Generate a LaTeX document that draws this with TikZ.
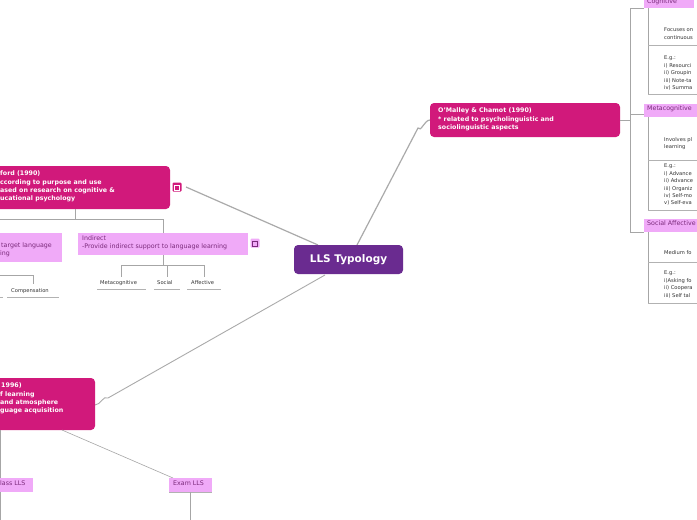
\documentclass[tikz,border=0pt]{standalone}
\usepackage{fontspec}
\setmainfont{DejaVu Sans}
\definecolor{mag}{HTML}{D1197B}
\definecolor{lav}{HTML}{F0AAF8}
\definecolor{lavtxt}{HTML}{7A2A7A}
\definecolor{cen}{HTML}{6A2B90}
\definecolor{ln}{HTML}{AAAAAA}
\begin{document}
\begin{tikzpicture}[x=1pt,y=-1pt,
  magbox/.style={fill=mag,rounded corners=4pt,draw=none},
  lavbox/.style={fill=lav,draw=none},
  wt/.style={text=white,font=\fontsize{6.3}{8.2}\selectfont\bfseries,anchor=north west,inner sep=0pt,align=left},
  lt/.style={text=lavtxt,font=\fontsize{6.3}{8}\selectfont,anchor=north west,inner sep=0pt,align=left},
  st/.style={text=black!80,font=\fontsize{5.2}{7.4}\selectfont,anchor=north west,inner sep=0pt,align=left},
  conn/.style={draw=ln,line width=1.2pt},
  tree/.style={draw=gray!70,line width=0.6pt},
  ul/.style={draw=gray!60,line width=0.6pt}]
\useasboundingbox (0,0) rectangle (697,520);
\clip (0,0) rectangle (697,520);
\fill[white] (0,0) rectangle (697,520);

% main connectors
\coordinate (c1) at (318,245);
\coordinate (c2) at (357,245);
\coordinate (c3) at (325,275);
\coordinate (oxi) at (186,187);
\coordinate (omi) at (430,120);
\coordinate (bti) at (95,405);
\draw[conn] (c1) -- (oxi);
\draw[conn] (c2) -- (418,128) to[out=-60,in=180] (omi);
\draw[draw=ln,line width=0.9pt] (c3) -- (108,398) to[out=150,in=0] (bti);

% center
\node[fill=cen,rounded corners=4pt,text=white,font=\fontsize{10.5}{12}\selectfont\bfseries,minimum width=109pt,minimum height=29pt] (center) at (348.5,259.5) {LLS Typology};

% Oxford
\fill[magbox] (-10,166) rectangle (170,209);
\node[wt] (ox) at (0,171) {ford (1990)\\ccording to purpose and use\\ased on research on cognitive \&\\ucational psychology};
\node[fill=mag,minimum size=9pt,inner sep=0pt,rounded corners=1pt] (oxicon) at (177,187) {};
\draw[white,line width=0.5pt] (174.5,185) rectangle (179.5,190);
\draw[tree] (75,209) -- (75,219);
\draw[tree] (0,219) -- (163,219) -- (163,233);
\fill[lavbox] (-5,233) rectangle (62,262);
\node[lt] (dir) at (0,243) {\,target language\\ing};
\fill[lavbox] (78,233) rectangle (248,255);
\node[lt] (ind) at (82,236) {Indirect\\-Provide indirect support to language learning};
\node[fill=lav,minimum size=9pt,inner sep=0pt,rounded corners=1pt] (indicon) at (255,243) {};
\draw[lavtxt,line width=0.4pt] (252.5,241) rectangle (257.5,246);
\draw[tree] (163,255) -- (163,265);
\draw[tree] (121,265) -- (204,265);
\foreach \x in {121,167,204} \draw[tree] (\x,265) -- (\x,277);
\node[st] (m) at (100,280) {Metacognitive};
\node[st] (s) at (157,280) {Social};
\node[st] (a) at (191,280) {Affective};
\draw[ul] (97,289) -- (146,289);
\draw[ul] (154,289) -- (180,289);
\draw[ul] (187,289) -- (221,289);
\draw[tree] (33,275) -- (0,275);
\draw[tree] (33,275) -- (33,284);
\node[st] (comp) at (11,288) {Compensation};
\draw[ul] (7,297) -- (59,297);
\draw[ul] (0,297) -- (3,297);

% O'Malley
\fill[magbox] (430,103) rectangle (620,137);
\node[wt] (om) at (438,108) {O'Malley \& Chamot (1990)\\* related to psycholinguistic and\\sociolinguistic aspects};
\draw[tree] (620,120) -- (630,120);
\draw[tree] (644,8) -- (630,8) -- (630,232) -- (644,232);
\draw[tree] (630,114) -- (644,114);
\fill[lavbox] (644,-4) rectangle (694,8);
\node[lt] (cog) at (647,-1) {Cognitive};
\fill[lavbox] (644,104) rectangle (700,117);
\node[lt] (meta) at (647,106) {Metacognitive};
\fill[lavbox] (644,219) rectangle (700,232);
\node[lt] (soc) at (647,221) {Social Affective};

\draw[tree] (648,8) -- (648,94);
\node[st] (t1) at (664,28) {Focuses on\\continuous};
\draw[ul] (648,45) -- (697,45);
\node[st] (t2) at (664,56) {E.g.:\\i) Resourci\\ii) Groupin\\iii) Note-ta\\iv) Summa};
\draw[ul] (648,94) -- (697,94);

\draw[tree] (648,117) -- (648,210);
\node[st] (t3) at (664,137) {Involves pl\\learning};
\draw[ul] (648,160) -- (697,160);
\node[st] (t4) at (664,164) {E.g.:\\i) Advance\\ii) Advance\\iii) Organiz\\iv) Self-mo\\v) Self-eva};
\draw[ul] (648,210) -- (697,210);

\draw[tree] (648,232) -- (648,303);
\node[st] (t5) at (664,250) {Medium fo};
\draw[ul] (648,262) -- (697,262);
\node[st] (t6) at (664,271) {E.g.:\\i)Asking fo\\ii) Coopera\\iii) Self tal};
\draw[ul] (648,303) -- (697,303);

% bottom
\fill[magbox] (-10,378) rectangle (95,430);
\node[wt] (bt) at (0,383) {\,1996)\\f learning\\and atmosphere\\guage acquisition};
\draw[tree] (0,430) -- (0,478);
\draw[tree] (62,430) -- (173,478);
\fill[lavbox] (-5,478) rectangle (33,492);
\node[lt] (cl) at (0,481) {lass LLS};
\fill[lavbox] (169,478) rectangle (212,492);
\node[lt] (ex) at (173,481) {Exam LLS};
\draw[ul] (169,492) -- (212,492);
\draw[tree] (190,492) -- (190,520);
\draw[tree] (0,492) -- (0,520);
\end{tikzpicture}
\end{document}
